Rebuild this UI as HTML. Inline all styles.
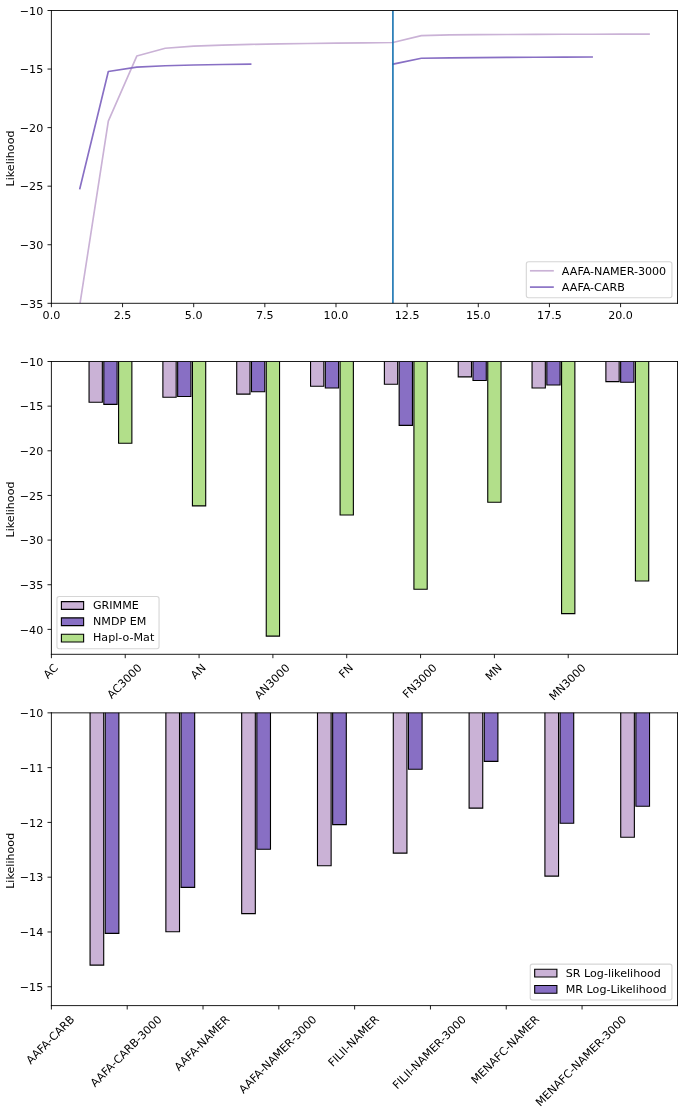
<!DOCTYPE html>
<html><head><meta charset="utf-8"><title>Likelihood figure</title>
<style>html,body{margin:0;padding:0;background:#fff;}svg{display:block;}text{font-family:"DejaVu Sans","Liberation Sans",sans-serif;}</style>
</head><body>
<svg width="685" height="1113" viewBox="0 0 685 1113" version="1.1">
 <defs>
  <style type="text/css">*{stroke-linejoin: round; stroke-linecap: butt}</style>
 </defs>
 <g id="figure_1">
  <g id="patch_1">
   <path d="M 0 1113  L 685 1113  L 685 0  L 0 0  z " style="fill: #ffffff" />
  </g>
  <g id="axes_1">
   <g id="patch_2">
    <path d="M 51.4 303.3  L 677.5 303.3  L 677.5 10.5  L 51.4 10.5  z " style="fill: #ffffff" />
   </g>
   <g id="matplotlib.axis_1">
    <g id="xtick_1">
     <g id="line2d_1">
      <defs>
       <path id="ma469dd302b" d="M 0 0  L 0 3.888889  " style="stroke: #000000; stroke-width: 0.888889" />
      </defs>
      <g>
       <use xlink:href="#ma469dd302b" x="51.4" y="303.3" style="stroke: #000000; stroke-width: 0.888889" />
      </g>
     </g>
     <g id="text_1" transform="translate(0.000 -0.800)">
      <text style="font-size: 11.111111px; font-family: 'DejaVu Sans'; text-anchor: middle" x="51.4" y="319.520486" transform="rotate(-0 51.4 319.520486)">0.0</text>
     </g>
    </g>
    <g id="xtick_2">
     <g id="line2d_2">
      <g>
       <use xlink:href="#ma469dd302b" x="122.547727" y="303.3" style="stroke: #000000; stroke-width: 0.888889" />
      </g>
     </g>
     <g id="text_2" transform="translate(0.000 -0.800)">
      <text style="font-size: 11.111111px; font-family: 'DejaVu Sans'; text-anchor: middle" x="122.547727" y="319.520486" transform="rotate(-0 122.547727 319.520486)">2.5</text>
     </g>
    </g>
    <g id="xtick_3">
     <g id="line2d_3">
      <g>
       <use xlink:href="#ma469dd302b" x="193.695455" y="303.3" style="stroke: #000000; stroke-width: 0.888889" />
      </g>
     </g>
     <g id="text_3" transform="translate(0.000 -0.800)">
      <text style="font-size: 11.111111px; font-family: 'DejaVu Sans'; text-anchor: middle" x="193.695455" y="319.520486" transform="rotate(-0 193.695455 319.520486)">5.0</text>
     </g>
    </g>
    <g id="xtick_4">
     <g id="line2d_4">
      <g>
       <use xlink:href="#ma469dd302b" x="264.843182" y="303.3" style="stroke: #000000; stroke-width: 0.888889" />
      </g>
     </g>
     <g id="text_4" transform="translate(0.000 -0.800)">
      <text style="font-size: 11.111111px; font-family: 'DejaVu Sans'; text-anchor: middle" x="264.843182" y="319.520486" transform="rotate(-0 264.843182 319.520486)">7.5</text>
     </g>
    </g>
    <g id="xtick_5">
     <g id="line2d_5">
      <g>
       <use xlink:href="#ma469dd302b" x="335.990909" y="303.3" style="stroke: #000000; stroke-width: 0.888889" />
      </g>
     </g>
     <g id="text_5" transform="translate(0.000 -0.800)">
      <text style="font-size: 11.111111px; font-family: 'DejaVu Sans'; text-anchor: middle" x="335.990909" y="319.520486" transform="rotate(-0 335.990909 319.520486)">10.0</text>
     </g>
    </g>
    <g id="xtick_6">
     <g id="line2d_6">
      <g>
       <use xlink:href="#ma469dd302b" x="407.138636" y="303.3" style="stroke: #000000; stroke-width: 0.888889" />
      </g>
     </g>
     <g id="text_6" transform="translate(0.000 -0.800)">
      <text style="font-size: 11.111111px; font-family: 'DejaVu Sans'; text-anchor: middle" x="407.138636" y="319.520486" transform="rotate(-0 407.138636 319.520486)">12.5</text>
     </g>
    </g>
    <g id="xtick_7">
     <g id="line2d_7">
      <g>
       <use xlink:href="#ma469dd302b" x="478.286364" y="303.3" style="stroke: #000000; stroke-width: 0.888889" />
      </g>
     </g>
     <g id="text_7" transform="translate(0.000 -0.800)">
      <text style="font-size: 11.111111px; font-family: 'DejaVu Sans'; text-anchor: middle" x="478.286364" y="319.520486" transform="rotate(-0 478.286364 319.520486)">15.0</text>
     </g>
    </g>
    <g id="xtick_8">
     <g id="line2d_8">
      <g>
       <use xlink:href="#ma469dd302b" x="549.434091" y="303.3" style="stroke: #000000; stroke-width: 0.888889" />
      </g>
     </g>
     <g id="text_8" transform="translate(0.000 -0.800)">
      <text style="font-size: 11.111111px; font-family: 'DejaVu Sans'; text-anchor: middle" x="549.434091" y="319.520486" transform="rotate(-0 549.434091 319.520486)">17.5</text>
     </g>
    </g>
    <g id="xtick_9">
     <g id="line2d_9">
      <g>
       <use xlink:href="#ma469dd302b" x="620.581818" y="303.3" style="stroke: #000000; stroke-width: 0.888889" />
      </g>
     </g>
     <g id="text_9" transform="translate(0.000 -0.800)">
      <text style="font-size: 11.111111px; font-family: 'DejaVu Sans'; text-anchor: middle" x="620.581818" y="319.520486" transform="rotate(-0 620.581818 319.520486)">20.0</text>
     </g>
    </g>
   </g>
   <g id="matplotlib.axis_2">
    <g id="ytick_1">
     <g id="line2d_10">
      <defs>
       <path id="md88950ffb6" d="M 0 0  L -3.888889 0  " style="stroke: #000000; stroke-width: 0.888889" />
      </defs>
      <g>
       <use xlink:href="#md88950ffb6" x="51.4" y="303.3" style="stroke: #000000; stroke-width: 0.888889" />
      </g>
     </g>
     <g id="text_10" transform="translate(-0.400 0.000)">
      <text style="font-size: 11.111111px; font-family: 'DejaVu Sans'; text-anchor: end" x="43.622222" y="307.521354" transform="rotate(-0 43.622222 307.521354)">−35</text>
     </g>
    </g>
    <g id="ytick_2">
     <g id="line2d_11">
      <g>
       <use xlink:href="#md88950ffb6" x="51.4" y="244.74" style="stroke: #000000; stroke-width: 0.888889" />
      </g>
     </g>
     <g id="text_11" transform="translate(-0.400 0.000)">
      <text style="font-size: 11.111111px; font-family: 'DejaVu Sans'; text-anchor: end" x="43.622222" y="248.961354" transform="rotate(-0 43.622222 248.961354)">−30</text>
     </g>
    </g>
    <g id="ytick_3">
     <g id="line2d_12">
      <g>
       <use xlink:href="#md88950ffb6" x="51.4" y="186.18" style="stroke: #000000; stroke-width: 0.888889" />
      </g>
     </g>
     <g id="text_12" transform="translate(-0.400 0.000)">
      <text style="font-size: 11.111111px; font-family: 'DejaVu Sans'; text-anchor: end" x="43.622222" y="190.401354" transform="rotate(-0 43.622222 190.401354)">−25</text>
     </g>
    </g>
    <g id="ytick_4">
     <g id="line2d_13">
      <g>
       <use xlink:href="#md88950ffb6" x="51.4" y="127.62" style="stroke: #000000; stroke-width: 0.888889" />
      </g>
     </g>
     <g id="text_13" transform="translate(-0.400 0.000)">
      <text style="font-size: 11.111111px; font-family: 'DejaVu Sans'; text-anchor: end" x="43.622222" y="131.841354" transform="rotate(-0 43.622222 131.841354)">−20</text>
     </g>
    </g>
    <g id="ytick_5">
     <g id="line2d_14">
      <g>
       <use xlink:href="#md88950ffb6" x="51.4" y="69.06" style="stroke: #000000; stroke-width: 0.888889" />
      </g>
     </g>
     <g id="text_14" transform="translate(-0.400 0.000)">
      <text style="font-size: 11.111111px; font-family: 'DejaVu Sans'; text-anchor: end" x="43.622222" y="73.281354" transform="rotate(-0 43.622222 73.281354)">−15</text>
     </g>
    </g>
    <g id="ytick_6">
     <g id="line2d_15">
      <g>
       <use xlink:href="#md88950ffb6" x="51.4" y="10.5" style="stroke: #000000; stroke-width: 0.888889" />
      </g>
     </g>
     <g id="text_15" transform="translate(-0.400 0.000)">
      <text style="font-size: 11.111111px; font-family: 'DejaVu Sans'; text-anchor: end" x="43.622222" y="14.721354" transform="rotate(-0 43.622222 14.721354)">−10</text>
     </g>
    </g>
    <g id="text_16" transform="translate(0.900 1.600)">
     <text style="font-size: 11.111111px; font-family: 'DejaVu Sans'; text-anchor: middle" x="13.417361" y="156.9" transform="rotate(-90 13.417361 156.9)">Likelihood</text>
    </g>
   </g>
   <g id="line2d_16">
    <path d="M 79.859091 304.4712  L 108.318182 121.1784  L 136.777273 56.05968  L 165.236364 48.21264  L 193.695455 46.10448  L 222.154545 45.0504  L 250.613636 44.34768  L 279.072727 43.8792  L 307.531818 43.52784  L 335.990909 43.17648  L 364.45 42.82512  L 392.909091 42.47376  L 421.368182 35.6808  L 449.827273 34.86096  L 478.286364 34.62672  L 506.745455 34.5096  L 535.204545 34.39248  L 563.663636 34.27536  L 592.122727 34.27536  L 620.581818 34.15824  L 649.040909 34.15824  " clip-path="url(#p0e9ca665ba)" style="fill: none; stroke: #cab2d6; stroke-width: 1.666667; stroke-linecap: square" />
   </g>
   <g id="line2d_17">
    <path d="M 79.859091 188.5224  L 108.318182 71.51952  L 136.777273 67.18608  L 165.236364 65.78064  L 193.695455 64.9608  L 222.154545 64.49232  L 250.613636 64.14096  " clip-path="url(#p0e9ca665ba)" style="fill: none; stroke: #886fc4; stroke-width: 1.666667; stroke-linecap: square" />
   </g>
   <g id="line2d_18">
    <path d="M 392.909091 64.14096  L 421.368182 58.28496  L 449.827273 57.81648  L 478.286364 57.58224  L 506.745455 57.348  L 535.204545 57.23088  L 563.663636 57.11376  L 592.122727 56.99664  " clip-path="url(#p0e9ca665ba)" style="fill: none; stroke: #886fc4; stroke-width: 1.666667; stroke-linecap: square" />
   </g>
   <g id="line2d_19">
    <path d="M 392.909091 303.3  L 392.909091 10.5  " clip-path="url(#p0e9ca665ba)" style="fill: none; stroke: #1f77b4; stroke-width: 1.666667; stroke-linecap: square" />
   </g>
   <g id="patch_3">
    <path d="M 51.4 303.3  L 51.4 10.5  " style="fill: none; stroke: #000000; stroke-width: 0.888889; stroke-linejoin: miter; stroke-linecap: square" />
   </g>
   <g id="patch_4">
    <path d="M 677.5 303.3  L 677.5 10.5  " style="fill: none; stroke: #000000; stroke-width: 0.888889; stroke-linejoin: miter; stroke-linecap: square" />
   </g>
   <g id="patch_5">
    <path d="M 51.4 303.3  L 677.5 303.3  " style="fill: none; stroke: #000000; stroke-width: 0.888889; stroke-linejoin: miter; stroke-linecap: square" />
   </g>
   <g id="patch_6">
    <path d="M 51.4 10.5  L 677.5 10.5  " style="fill: none; stroke: #000000; stroke-width: 0.888889; stroke-linejoin: miter; stroke-linecap: square" />
   </g>
   <g id="legend_1">
    <g id="patch_7">
     <path d="M 528.5403 297.7444  L 669.7222 297.7444  Q 671.9444 297.7444 671.9444 295.5222  L 671.9444 264.0153  Q 671.9444 261.7931 669.7222 261.7931  L 528.5403 261.7931  Q 526.3181 261.7931 526.3181 264.0153  L 526.3181 295.5222  Q 526.3181 297.7444 528.5403 297.7444  z " style="fill: #ffffff; opacity: 0.8; stroke: #cccccc; stroke-width: 1.111111; stroke-linejoin: miter" />
    </g>
    <g id="line2d_20" transform="translate(-1.300 0.000)">
     <path d="M 532.0625 270.791319  L 543.173611 270.791319  L 554.284722 270.791319  " style="fill: none; stroke: #cab2d6; stroke-width: 1.666667; stroke-linecap: square" />
    </g>
    <g id="text_17" transform="translate(-1.300 0.000)">
     <text style="font-size: 11.111111px; font-family: 'DejaVu Sans'; text-anchor: start" x="563.173611" y="274.680208" transform="rotate(-0 563.173611 274.680208)">AAFA-NAMER-3000</text>
    </g>
    <g id="line2d_21" transform="translate(-1.300 0.000)">
     <path d="M 532.0625 287.100347  L 543.173611 287.100347  L 554.284722 287.100347  " style="fill: none; stroke: #886fc4; stroke-width: 1.666667; stroke-linecap: square" />
    </g>
    <g id="text_18" transform="translate(-1.300 0.000)">
     <text style="font-size: 11.111111px; font-family: 'DejaVu Sans'; text-anchor: start" x="563.173611" y="290.989236" transform="rotate(-0 563.173611 290.989236)">AAFA-CARB</text>
    </g>
   </g>
  </g>
  <g id="axes_2">
   <g id="patch_8">
    <path d="M 51.4 654.3  L 677.5 654.3  L 677.5 361.5  L 51.4 361.5  z " style="fill: #ffffff" />
   </g>
   <g id="patch_9">
    <path d="M 89.054599 272.204483  L 102.344458 272.204483  L 102.344458 402.308051  L 89.054599 402.308051  z " clip-path="url(#p69fe5c8029)" style="fill: #cab2d6; stroke: #000000; stroke-width: 1.111111; stroke-linejoin: miter" />
   </g>
   <g id="patch_10">
    <path d="M 162.887146 272.204483  L 176.177005 272.204483  L 176.177005 397.307502  L 162.887146 397.307502  z " clip-path="url(#p69fe5c8029)" style="fill: #cab2d6; stroke: #000000; stroke-width: 1.111111; stroke-linejoin: miter" />
   </g>
   <g id="patch_11">
    <path d="M 236.719693 272.204483  L 250.009552 272.204483  L 250.009552 394.092864  L 236.719693 394.092864  z " clip-path="url(#p69fe5c8029)" style="fill: #cab2d6; stroke: #000000; stroke-width: 1.111111; stroke-linejoin: miter" />
   </g>
   <g id="patch_12">
    <path d="M 310.552241 272.204483  L 323.842099 272.204483  L 323.842099 386.234858  L 310.552241 386.234858  z " clip-path="url(#p69fe5c8029)" style="fill: #cab2d6; stroke: #000000; stroke-width: 1.111111; stroke-linejoin: miter" />
   </g>
   <g id="patch_13">
    <path d="M 384.384788 272.204483  L 397.674646 272.204483  L 397.674646 384.181061  L 384.384788 384.181061  z " clip-path="url(#p69fe5c8029)" style="fill: #cab2d6; stroke: #000000; stroke-width: 1.111111; stroke-linejoin: miter" />
   </g>
   <g id="patch_14">
    <path d="M 458.217335 272.204483  L 471.507193 272.204483  L 471.507193 376.858829  L 458.217335 376.858829  z " clip-path="url(#p69fe5c8029)" style="fill: #cab2d6; stroke: #000000; stroke-width: 1.111111; stroke-linejoin: miter" />
   </g>
   <g id="patch_15">
    <path d="M 532.049882 272.204483  L 545.339741 272.204483  L 545.339741 388.020769  L 532.049882 388.020769  z " clip-path="url(#p69fe5c8029)" style="fill: #cab2d6; stroke: #000000; stroke-width: 1.111111; stroke-linejoin: miter" />
   </g>
   <g id="patch_16">
    <path d="M 605.882429 272.204483  L 619.172288 272.204483  L 619.172288 381.591491  L 605.882429 381.591491  z " clip-path="url(#p69fe5c8029)" style="fill: #cab2d6; stroke: #000000; stroke-width: 1.111111; stroke-linejoin: miter" />
   </g>
   <g id="patch_17">
    <path d="M 103.821108 272.204483  L 117.110967 272.204483  L 117.110967 404.361848  L 103.821108 404.361848  z " clip-path="url(#p69fe5c8029)" style="fill: #886fc4; stroke: #000000; stroke-width: 1.111111; stroke-linejoin: miter" />
   </g>
   <g id="patch_18">
    <path d="M 177.653656 272.204483  L 190.943514 272.204483  L 190.943514 396.503843  L 177.653656 396.503843  z " clip-path="url(#p69fe5c8029)" style="fill: #886fc4; stroke: #000000; stroke-width: 1.111111; stroke-linejoin: miter" />
   </g>
   <g id="patch_19">
    <path d="M 251.486203 272.204483  L 264.776061 272.204483  L 264.776061 391.77118  L 251.486203 391.77118  z " clip-path="url(#p69fe5c8029)" style="fill: #886fc4; stroke: #000000; stroke-width: 1.111111; stroke-linejoin: miter" />
   </g>
   <g id="patch_20">
    <path d="M 325.31875 272.204483  L 338.608608 272.204483  L 338.608608 388.020769  L 325.31875 388.020769  z " clip-path="url(#p69fe5c8029)" style="fill: #886fc4; stroke: #000000; stroke-width: 1.111111; stroke-linejoin: miter" />
   </g>
   <g id="patch_21">
    <path d="M 399.151297 272.204483  L 412.441156 272.204483  L 412.441156 425.346295  L 399.151297 425.346295  z " clip-path="url(#p69fe5c8029)" style="fill: #886fc4; stroke: #000000; stroke-width: 1.111111; stroke-linejoin: miter" />
   </g>
   <g id="patch_22">
    <path d="M 472.983844 272.204483  L 486.273703 272.204483  L 486.273703 380.43065  L 472.983844 380.43065  z " clip-path="url(#p69fe5c8029)" style="fill: #886fc4; stroke: #000000; stroke-width: 1.111111; stroke-linejoin: miter" />
   </g>
   <g id="patch_23">
    <path d="M 546.816392 272.204483  L 560.10625 272.204483  L 560.10625 384.984721  L 546.816392 384.984721  z " clip-path="url(#p69fe5c8029)" style="fill: #886fc4; stroke: #000000; stroke-width: 1.111111; stroke-linejoin: miter" />
   </g>
   <g id="patch_24">
    <path d="M 620.648939 272.204483  L 633.938797 272.204483  L 633.938797 382.305855  L 620.648939 382.305855  z " clip-path="url(#p69fe5c8029)" style="fill: #886fc4; stroke: #000000; stroke-width: 1.111111; stroke-linejoin: miter" />
   </g>
   <g id="patch_25">
    <path d="M 118.587618 272.204483  L 131.877476 272.204483  L 131.877476 443.205398  L 118.587618 443.205398  z " clip-path="url(#p69fe5c8029)" style="fill: #b2df8a; stroke: #000000; stroke-width: 1.111111; stroke-linejoin: miter" />
   </g>
   <g id="patch_26">
    <path d="M 192.420165 272.204483  L 205.710024 272.204483  L 205.710024 505.890851  L 192.420165 505.890851  z " clip-path="url(#p69fe5c8029)" style="fill: #b2df8a; stroke: #000000; stroke-width: 1.111111; stroke-linejoin: miter" />
   </g>
   <g id="patch_27">
    <path d="M 266.252712 272.204483  L 279.542571 272.204483  L 279.542571 636.083715  L 266.252712 636.083715  z " clip-path="url(#p69fe5c8029)" style="fill: #b2df8a; stroke: #000000; stroke-width: 1.111111; stroke-linejoin: miter" />
   </g>
   <g id="patch_28">
    <path d="M 340.085259 272.204483  L 353.375118 272.204483  L 353.375118 514.998994  L 340.085259 514.998994  z " clip-path="url(#p69fe5c8029)" style="fill: #b2df8a; stroke: #000000; stroke-width: 1.111111; stroke-linejoin: miter" />
   </g>
   <g id="patch_29">
    <path d="M 413.917807 272.204483  L 427.207665 272.204483  L 427.207665 589.203568  L 413.917807 589.203568  z " clip-path="url(#p69fe5c8029)" style="fill: #b2df8a; stroke: #000000; stroke-width: 1.111111; stroke-linejoin: miter" />
   </g>
   <g id="patch_30">
    <path d="M 487.750354 272.204483  L 501.040212 272.204483  L 501.040212 502.31903  L 487.750354 502.31903  z " clip-path="url(#p69fe5c8029)" style="fill: #b2df8a; stroke: #000000; stroke-width: 1.111111; stroke-linejoin: miter" />
   </g>
   <g id="patch_31">
    <path d="M 561.582901 272.204483  L 574.872759 272.204483  L 574.872759 613.67054  L 561.582901 613.67054  z " clip-path="url(#p69fe5c8029)" style="fill: #b2df8a; stroke: #000000; stroke-width: 1.111111; stroke-linejoin: miter" />
   </g>
   <g id="patch_32">
    <path d="M 635.415448 272.204483  L 648.705307 272.204483  L 648.705307 580.988381  L 635.415448 580.988381  z " clip-path="url(#p69fe5c8029)" style="fill: #b2df8a; stroke: #000000; stroke-width: 1.111111; stroke-linejoin: miter" />
   </g>
   <g id="matplotlib.axis_3">
    <g id="xtick_10">
     <g id="line2d_22">
      <g>
       <use xlink:href="#ma469dd302b" x="51.4" y="654.3" style="stroke: #000000; stroke-width: 0.888889" />
      </g>
     </g>
     <g id="text_19" transform="translate(-0.300 0.400)">
      <text style="font-size: 11.111111px; font-family: 'DejaVu Sans'" transform="translate(48.206357 678.770899) rotate(-45)">AC</text>
     </g>
    </g>
    <g id="xtick_11">
     <g id="line2d_23">
      <g>
       <use xlink:href="#ma469dd302b" x="125.232547" y="654.3" style="stroke: #000000; stroke-width: 0.888889" />
      </g>
     </g>
     <g id="text_20" transform="translate(-0.300 0.400)">
      <text style="font-size: 11.111111px; font-family: 'DejaVu Sans'" transform="translate(112.0412 698.766308) rotate(-45)">AC3000</text>
     </g>
    </g>
    <g id="xtick_12">
     <g id="line2d_24">
      <g>
       <use xlink:href="#ma469dd302b" x="199.065094" y="654.3" style="stroke: #000000; stroke-width: 0.888889" />
      </g>
     </g>
     <g id="text_21" transform="translate(-0.300 0.400)">
      <text style="font-size: 11.111111px; font-family: 'DejaVu Sans'" transform="translate(195.6069 679.300002) rotate(-45)">AN</text>
     </g>
    </g>
    <g id="xtick_13">
     <g id="line2d_25">
      <g>
       <use xlink:href="#ma469dd302b" x="272.897642" y="654.3" style="stroke: #000000; stroke-width: 0.888889" />
      </g>
     </g>
     <g id="text_22" transform="translate(-0.300 0.400)">
      <text style="font-size: 11.111111px; font-family: 'DejaVu Sans'" transform="translate(259.441743 699.29541) rotate(-45)">AN3000</text>
     </g>
    </g>
    <g id="xtick_14">
     <g id="line2d_26">
      <g>
       <use xlink:href="#ma469dd302b" x="346.730189" y="654.3" style="stroke: #000000; stroke-width: 0.888889" />
      </g>
     </g>
     <g id="text_23" transform="translate(-0.300 0.400)">
      <text style="font-size: 11.111111px; font-family: 'DejaVu Sans'" transform="translate(343.699819 678.444353) rotate(-45)">FN</text>
     </g>
    </g>
    <g id="xtick_15">
     <g id="line2d_27">
      <g>
       <use xlink:href="#ma469dd302b" x="420.562736" y="654.3" style="stroke: #000000; stroke-width: 0.888889" />
      </g>
     </g>
     <g id="text_24" transform="translate(-0.300 0.400)">
      <text style="font-size: 11.111111px; font-family: 'DejaVu Sans'" transform="translate(407.534662 698.439762) rotate(-45)">FN3000</text>
     </g>
    </g>
    <g id="xtick_16">
     <g id="line2d_28">
      <g>
       <use xlink:href="#ma469dd302b" x="494.395283" y="654.3" style="stroke: #000000; stroke-width: 0.888889" />
      </g>
     </g>
     <g id="text_25" transform="translate(-0.300 0.400)">
      <text style="font-size: 11.111111px; font-family: 'DejaVu Sans'" transform="translate(490.234893 680.704394) rotate(-45)">MN</text>
     </g>
    </g>
    <g id="xtick_17">
     <g id="line2d_29">
      <g>
       <use xlink:href="#ma469dd302b" x="568.22783" y="654.3" style="stroke: #000000; stroke-width: 0.888889" />
      </g>
     </g>
     <g id="text_26" transform="translate(-0.300 0.400)">
      <text style="font-size: 11.111111px; font-family: 'DejaVu Sans'" transform="translate(554.069736 700.699803) rotate(-45)">MN3000</text>
     </g>
    </g>
   </g>
   <g id="matplotlib.axis_4">
    <g id="ytick_7">
     <g id="line2d_30">
      <g>
       <use xlink:href="#md88950ffb6" x="51.4" y="629.386551" style="stroke: #000000; stroke-width: 0.888889" />
      </g>
     </g>
     <g id="text_27" transform="translate(-0.400 0.000)">
      <text style="font-size: 11.111111px; font-family: 'DejaVu Sans'; text-anchor: end" x="43.622222" y="633.607905" transform="rotate(-0 43.622222 633.607905)">−40</text>
     </g>
    </g>
    <g id="ytick_8">
     <g id="line2d_31">
      <g>
       <use xlink:href="#md88950ffb6" x="51.4" y="584.738792" style="stroke: #000000; stroke-width: 0.888889" />
      </g>
     </g>
     <g id="text_28" transform="translate(-0.400 0.000)">
      <text style="font-size: 11.111111px; font-family: 'DejaVu Sans'; text-anchor: end" x="43.622222" y="588.960146" transform="rotate(-0 43.622222 588.960146)">−35</text>
     </g>
    </g>
    <g id="ytick_9">
     <g id="line2d_32">
      <g>
       <use xlink:href="#md88950ffb6" x="51.4" y="540.091034" style="stroke: #000000; stroke-width: 0.888889" />
      </g>
     </g>
     <g id="text_29" transform="translate(-0.400 0.000)">
      <text style="font-size: 11.111111px; font-family: 'DejaVu Sans'; text-anchor: end" x="43.622222" y="544.312388" transform="rotate(-0 43.622222 544.312388)">−30</text>
     </g>
    </g>
    <g id="ytick_10">
     <g id="line2d_33">
      <g>
       <use xlink:href="#md88950ffb6" x="51.4" y="495.443275" style="stroke: #000000; stroke-width: 0.888889" />
      </g>
     </g>
     <g id="text_30" transform="translate(-0.400 0.000)">
      <text style="font-size: 11.111111px; font-family: 'DejaVu Sans'; text-anchor: end" x="43.622222" y="499.66463" transform="rotate(-0 43.622222 499.66463)">−25</text>
     </g>
    </g>
    <g id="ytick_11">
     <g id="line2d_34">
      <g>
       <use xlink:href="#md88950ffb6" x="51.4" y="450.795517" style="stroke: #000000; stroke-width: 0.888889" />
      </g>
     </g>
     <g id="text_31" transform="translate(-0.400 0.000)">
      <text style="font-size: 11.111111px; font-family: 'DejaVu Sans'; text-anchor: end" x="43.622222" y="455.016871" transform="rotate(-0 43.622222 455.016871)">−20</text>
     </g>
    </g>
    <g id="ytick_12">
     <g id="line2d_35">
      <g>
       <use xlink:href="#md88950ffb6" x="51.4" y="406.147758" style="stroke: #000000; stroke-width: 0.888889" />
      </g>
     </g>
     <g id="text_32" transform="translate(-0.400 0.000)">
      <text style="font-size: 11.111111px; font-family: 'DejaVu Sans'; text-anchor: end" x="43.622222" y="410.369113" transform="rotate(-0 43.622222 410.369113)">−15</text>
     </g>
    </g>
    <g id="ytick_13">
     <g id="line2d_36">
      <g>
       <use xlink:href="#md88950ffb6" x="51.4" y="361.5" style="stroke: #000000; stroke-width: 0.888889" />
      </g>
     </g>
     <g id="text_33" transform="translate(-0.400 0.000)">
      <text style="font-size: 11.111111px; font-family: 'DejaVu Sans'; text-anchor: end" x="43.622222" y="365.721354" transform="rotate(-0 43.622222 365.721354)">−10</text>
     </g>
    </g>
    <g id="text_34" transform="translate(0.900 1.600)">
     <text style="font-size: 11.111111px; font-family: 'DejaVu Sans'; text-anchor: middle" x="13.417361" y="507.9" transform="rotate(-90 13.417361 507.9)">Likelihood</text>
    </g>
   </g>
   <g id="patch_33">
    <path d="M 51.4 654.3  L 51.4 361.5  " style="fill: none; stroke: #000000; stroke-width: 0.888889; stroke-linejoin: miter; stroke-linecap: square" />
   </g>
   <g id="patch_34">
    <path d="M 677.5 654.3  L 677.5 361.5  " style="fill: none; stroke: #000000; stroke-width: 0.888889; stroke-linejoin: miter; stroke-linecap: square" />
   </g>
   <g id="patch_35">
    <path d="M 51.4 654.3  L 677.5 654.3  " style="fill: none; stroke: #000000; stroke-width: 0.888889; stroke-linejoin: miter; stroke-linecap: square" />
   </g>
   <g id="patch_36">
    <path d="M 51.4 361.5  L 677.5 361.5  " style="fill: none; stroke: #000000; stroke-width: 0.888889; stroke-linejoin: miter; stroke-linecap: square" />
   </g>
   <g id="legend_2">
    <g id="patch_37">
     <path d="M 59.1778 648.7444  L 156.8233 648.7444  Q 159.0455 648.7444 159.0455 646.5222  L 159.0455 598.7062  Q 159.0455 596.4840 156.8233 596.4840  L 59.1778 596.4840  Q 56.9556 596.4840 56.9556 598.7062  L 56.9556 646.5222  Q 56.9556 648.7444 59.1778 648.7444  z " style="fill: #ffffff; opacity: 0.8; stroke: #cccccc; stroke-width: 1.111111; stroke-linejoin: miter" />
    </g>
    <g id="patch_38" transform="translate(0.000 0.000)">
     <path d="M 61.4 609.371181  L 83.622222 609.371181  L 83.622222 601.593403  L 61.4 601.593403  z " style="fill: #cab2d6; stroke: #000000; stroke-width: 1.111111; stroke-linejoin: miter" />
    </g>
    <g id="text_35" transform="translate(0.500 -0.500)">
     <text style="font-size: 11.111111px; font-family: 'DejaVu Sans'; text-anchor: start" x="92.511111" y="609.371181" transform="rotate(-0 92.511111 609.371181)">GRIMME</text>
    </g>
    <g id="patch_39" transform="translate(0.000 0.000)">
     <path d="M 61.4 625.680208  L 83.622222 625.680208  L 83.622222 617.902431  L 61.4 617.902431  z " style="fill: #886fc4; stroke: #000000; stroke-width: 1.111111; stroke-linejoin: miter" />
    </g>
    <g id="text_36" transform="translate(0.500 -0.500)">
     <text style="font-size: 11.111111px; font-family: 'DejaVu Sans'; text-anchor: start" x="92.511111" y="625.680208" transform="rotate(-0 92.511111 625.680208)">NMDP EM</text>
    </g>
    <g id="patch_40" transform="translate(0.000 0.000)">
     <path d="M 61.4 641.989236  L 83.622222 641.989236  L 83.622222 634.211458  L 61.4 634.211458  z " style="fill: #b2df8a; stroke: #000000; stroke-width: 1.111111; stroke-linejoin: miter" />
    </g>
    <g id="text_37" transform="translate(0.500 -0.500)">
     <text style="font-size: 11.111111px; font-family: 'DejaVu Sans'; text-anchor: start" x="92.511111" y="641.989236" transform="rotate(-0 92.511111 641.989236)">Hapl-o-Mat</text>
    </g>
   </g>
  </g>
  <g id="axes_3">
   <g id="patch_41">
    <path d="M 51.4 1005.6  L 677.5 1005.6  L 677.5 712.85  L 51.4 712.85  z " style="fill: #ffffff" />
   </g>
   <g id="patch_42">
    <path d="M 90.062187 165.039371  L 103.707664 165.039371  L 103.707664 965.116795  L 90.062187 965.116795  z " clip-path="url(#pdeedae4d94)" style="fill: #cab2d6; stroke: #000000; stroke-width: 1.111111; stroke-linejoin: miter" />
   </g>
   <g id="patch_43">
    <path d="M 165.870396 165.039371  L 179.515874 165.039371  L 179.515874 931.700346  L 165.870396 931.700346  z " clip-path="url(#pdeedae4d94)" style="fill: #cab2d6; stroke: #000000; stroke-width: 1.111111; stroke-linejoin: miter" />
   </g>
   <g id="patch_44">
    <path d="M 241.678605 165.039371  L 255.324083 165.039371  L 255.324083 913.622595  L 241.678605 913.622595  z " clip-path="url(#pdeedae4d94)" style="fill: #cab2d6; stroke: #000000; stroke-width: 1.111111; stroke-linejoin: miter" />
   </g>
   <g id="patch_45">
    <path d="M 317.486814 165.039371  L 331.132292 165.039371  L 331.132292 865.689165  L 317.486814 865.689165  z " clip-path="url(#pdeedae4d94)" style="fill: #cab2d6; stroke: #000000; stroke-width: 1.111111; stroke-linejoin: miter" />
   </g>
   <g id="patch_46">
    <path d="M 393.295024 165.039371  L 406.940501 165.039371  L 406.940501 853.089521  L 393.295024 853.089521  z " clip-path="url(#pdeedae4d94)" style="fill: #cab2d6; stroke: #000000; stroke-width: 1.111111; stroke-linejoin: miter" />
   </g>
   <g id="patch_47">
    <path d="M 469.103233 165.039371  L 482.74871 165.039371  L 482.74871 808.169049  L 469.103233 808.169049  z " clip-path="url(#pdeedae4d94)" style="fill: #cab2d6; stroke: #000000; stroke-width: 1.111111; stroke-linejoin: miter" />
   </g>
   <g id="patch_48">
    <path d="M 544.911442 165.039371  L 558.55692 165.039371  L 558.55692 876.097567  L 544.911442 876.097567  z " clip-path="url(#pdeedae4d94)" style="fill: #cab2d6; stroke: #000000; stroke-width: 1.111111; stroke-linejoin: miter" />
   </g>
   <g id="patch_49">
    <path d="M 620.719651 165.039371  L 634.365129 165.039371  L 634.365129 837.203013  L 620.719651 837.203013  z " clip-path="url(#pdeedae4d94)" style="fill: #cab2d6; stroke: #000000; stroke-width: 1.111111; stroke-linejoin: miter" />
   </g>
   <g id="patch_50">
    <path d="M 105.223829 165.039371  L 118.869306 165.039371  L 118.869306 933.343778  L 105.223829 933.343778  z " clip-path="url(#pdeedae4d94)" style="fill: #886fc4; stroke: #000000; stroke-width: 1.111111; stroke-linejoin: miter" />
   </g>
   <g id="patch_51">
    <path d="M 181.032038 165.039371  L 194.677515 165.039371  L 194.677515 887.327685  L 181.032038 887.327685  z " clip-path="url(#pdeedae4d94)" style="fill: #886fc4; stroke: #000000; stroke-width: 1.111111; stroke-linejoin: miter" />
   </g>
   <g id="patch_52">
    <path d="M 256.840247 165.039371  L 270.485725 165.039371  L 270.485725 849.254847  L 256.840247 849.254847  z " clip-path="url(#pdeedae4d94)" style="fill: #886fc4; stroke: #000000; stroke-width: 1.111111; stroke-linejoin: miter" />
   </g>
   <g id="patch_53">
    <path d="M 332.648456 165.039371  L 346.293934 165.039371  L 346.293934 824.603368  L 332.648456 824.603368  z " clip-path="url(#pdeedae4d94)" style="fill: #886fc4; stroke: #000000; stroke-width: 1.111111; stroke-linejoin: miter" />
   </g>
   <g id="patch_54">
    <path d="M 408.456665 165.039371  L 422.102143 165.039371  L 422.102143 769.274495  L 408.456665 769.274495  z " clip-path="url(#pdeedae4d94)" style="fill: #886fc4; stroke: #000000; stroke-width: 1.111111; stroke-linejoin: miter" />
   </g>
   <g id="patch_55">
    <path d="M 484.264875 165.039371  L 497.910352 165.039371  L 497.910352 761.331241  L 484.264875 761.331241  z " clip-path="url(#pdeedae4d94)" style="fill: #886fc4; stroke: #000000; stroke-width: 1.111111; stroke-linejoin: miter" />
   </g>
   <g id="patch_56">
    <path d="M 560.073084 165.039371  L 573.718562 165.039371  L 573.718562 823.233842  L 560.073084 823.233842  z " clip-path="url(#pdeedae4d94)" style="fill: #886fc4; stroke: #000000; stroke-width: 1.111111; stroke-linejoin: miter" />
   </g>
   <g id="patch_57">
    <path d="M 635.881293 165.039371  L 649.526771 165.039371  L 649.526771 806.251712  L 635.881293 806.251712  z " clip-path="url(#pdeedae4d94)" style="fill: #886fc4; stroke: #000000; stroke-width: 1.111111; stroke-linejoin: miter" />
   </g>
   <g id="matplotlib.axis_5">
    <g id="xtick_18">
     <g id="line2d_37">
      <g>
       <use xlink:href="#ma469dd302b" x="51.4" y="1005.6" style="stroke: #000000; stroke-width: 0.888889" />
      </g>
     </g>
     <g id="text_38" transform="translate(-0.600 0.800)">
      <text style="font-size: 11.111111px; font-family: 'DejaVu Sans'" transform="translate(31.313134 1063.857345) rotate(-45)">AAFA-CARB</text>
     </g>
    </g>
    <g id="xtick_19">
     <g id="line2d_38">
      <g>
       <use xlink:href="#ma469dd302b" x="127.208209" y="1005.6" style="stroke: #000000; stroke-width: 0.888889" />
      </g>
     </g>
     <g id="text_39" transform="translate(-0.600 0.800)">
      <text style="font-size: 11.111111px; font-family: 'DejaVu Sans'" transform="translate(95.706357 1086.687319) rotate(-45)">AAFA-CARB-3000</text>
     </g>
    </g>
    <g id="xtick_20">
     <g id="line2d_39">
      <g>
       <use xlink:href="#ma469dd302b" x="203.016418" y="1005.6" style="stroke: #000000; stroke-width: 0.888889" />
      </g>
     </g>
     <g id="text_40" transform="translate(-0.600 0.800)">
      <text style="font-size: 11.111111px; font-family: 'DejaVu Sans'" transform="translate(179.557292 1070.601867) rotate(-45)">AAFA-NAMER</text>
     </g>
    </g>
    <g id="xtick_21">
     <g id="line2d_40">
      <g>
       <use xlink:href="#ma469dd302b" x="278.824628" y="1005.6" style="stroke: #000000; stroke-width: 0.888889" />
      </g>
     </g>
     <g id="text_41" transform="translate(-0.600 0.800)">
      <text style="font-size: 11.111111px; font-family: 'DejaVu Sans'" transform="translate(244.107649 1093.117571) rotate(-45)">AAFA-NAMER-3000</text>
     </g>
    </g>
    <g id="xtick_22">
     <g id="line2d_41">
      <g>
       <use xlink:href="#ma469dd302b" x="354.632837" y="1005.6" style="stroke: #000000; stroke-width: 0.888889" />
      </g>
     </g>
     <g id="text_42" transform="translate(-0.600 0.800)">
      <text style="font-size: 11.111111px; font-family: 'DejaVu Sans'" transform="translate(333.231194 1066.486899) rotate(-45)">FILII-NAMER</text>
     </g>
    </g>
    <g id="xtick_23">
     <g id="line2d_42">
      <g>
       <use xlink:href="#ma469dd302b" x="430.441046" y="1005.6" style="stroke: #000000; stroke-width: 0.888889" />
      </g>
     </g>
     <g id="text_43" transform="translate(-0.600 0.800)">
      <text style="font-size: 11.111111px; font-family: 'DejaVu Sans'" transform="translate(397.781552 1089.002603) rotate(-45)">FILII-NAMER-3000</text>
     </g>
    </g>
    <g id="xtick_24">
     <g id="line2d_43">
      <g>
       <use xlink:href="#ma469dd302b" x="506.249255" y="1005.6" style="stroke: #000000; stroke-width: 0.888889" />
      </g>
     </g>
     <g id="text_44" transform="translate(-0.600 0.800)">
      <text style="font-size: 11.111111px; font-family: 'DejaVu Sans'" transform="translate(476.272102 1083.637921) rotate(-45)">MENAFC-NAMER</text>
     </g>
    </g>
    <g id="xtick_25">
     <g id="line2d_44">
      <g>
       <use xlink:href="#ma469dd302b" x="582.057465" y="1005.6" style="stroke: #000000; stroke-width: 0.888889" />
      </g>
     </g>
     <g id="text_45" transform="translate(-0.600 0.800)">
      <text style="font-size: 11.111111px; font-family: 'DejaVu Sans'" transform="translate(540.822459 1106.153625) rotate(-45)">MENAFC-NAMER-3000</text>
     </g>
    </g>
   </g>
   <g id="matplotlib.axis_6">
    <g id="ytick_14">
     <g id="line2d_45">
      <g>
       <use xlink:href="#md88950ffb6" x="51.4" y="986.755314" style="stroke: #000000; stroke-width: 0.888889" />
      </g>
     </g>
     <g id="text_46" transform="translate(-0.400 0.000)">
      <text style="font-size: 11.111111px; font-family: 'DejaVu Sans'; text-anchor: end" x="43.622222" y="990.976669" transform="rotate(-0 43.622222 990.976669)">−15</text>
     </g>
    </g>
    <g id="ytick_15">
     <g id="line2d_46">
      <g>
       <use xlink:href="#md88950ffb6" x="51.4" y="931.974251" style="stroke: #000000; stroke-width: 0.888889" />
      </g>
     </g>
     <g id="text_47" transform="translate(-0.400 0.000)">
      <text style="font-size: 11.111111px; font-family: 'DejaVu Sans'; text-anchor: end" x="43.622222" y="936.195606" transform="rotate(-0 43.622222 936.195606)">−14</text>
     </g>
    </g>
    <g id="ytick_16">
     <g id="line2d_47">
      <g>
       <use xlink:href="#md88950ffb6" x="51.4" y="877.193189" style="stroke: #000000; stroke-width: 0.888889" />
      </g>
     </g>
     <g id="text_48" transform="translate(-0.400 0.000)">
      <text style="font-size: 11.111111px; font-family: 'DejaVu Sans'; text-anchor: end" x="43.622222" y="881.414543" transform="rotate(-0 43.622222 881.414543)">−13</text>
     </g>
    </g>
    <g id="ytick_17">
     <g id="line2d_48">
      <g>
       <use xlink:href="#md88950ffb6" x="51.4" y="822.412126" style="stroke: #000000; stroke-width: 0.888889" />
      </g>
     </g>
     <g id="text_49" transform="translate(-0.400 0.000)">
      <text style="font-size: 11.111111px; font-family: 'DejaVu Sans'; text-anchor: end" x="43.622222" y="826.63348" transform="rotate(-0 43.622222 826.63348)">−12</text>
     </g>
    </g>
    <g id="ytick_18">
     <g id="line2d_49">
      <g>
       <use xlink:href="#md88950ffb6" x="51.4" y="767.631063" style="stroke: #000000; stroke-width: 0.888889" />
      </g>
     </g>
     <g id="text_50" transform="translate(-0.400 0.000)">
      <text style="font-size: 11.111111px; font-family: 'DejaVu Sans'; text-anchor: end" x="43.622222" y="771.852417" transform="rotate(-0 43.622222 771.852417)">−11</text>
     </g>
    </g>
    <g id="ytick_19">
     <g id="line2d_50">
      <g>
       <use xlink:href="#md88950ffb6" x="51.4" y="712.85" style="stroke: #000000; stroke-width: 0.888889" />
      </g>
     </g>
     <g id="text_51" transform="translate(-0.400 0.000)">
      <text style="font-size: 11.111111px; font-family: 'DejaVu Sans'; text-anchor: end" x="43.622222" y="717.071354" transform="rotate(-0 43.622222 717.071354)">−10</text>
     </g>
    </g>
    <g id="text_52" transform="translate(0.900 1.600)">
     <text style="font-size: 11.111111px; font-family: 'DejaVu Sans'; text-anchor: middle" x="13.417361" y="859.225" transform="rotate(-90 13.417361 859.225)">Likelihood</text>
    </g>
   </g>
   <g id="patch_58">
    <path d="M 51.4 1005.6  L 51.4 712.85  " style="fill: none; stroke: #000000; stroke-width: 0.888889; stroke-linejoin: miter; stroke-linecap: square" />
   </g>
   <g id="patch_59">
    <path d="M 677.5 1005.6  L 677.5 712.85  " style="fill: none; stroke: #000000; stroke-width: 0.888889; stroke-linejoin: miter; stroke-linecap: square" />
   </g>
   <g id="patch_60">
    <path d="M 51.4 1005.6  L 677.5 1005.6  " style="fill: none; stroke: #000000; stroke-width: 0.888889; stroke-linejoin: miter; stroke-linecap: square" />
   </g>
   <g id="patch_61">
    <path d="M 51.4 712.85  L 677.5 712.85  " style="fill: none; stroke: #000000; stroke-width: 0.888889; stroke-linejoin: miter; stroke-linecap: square" />
   </g>
   <g id="legend_3">
    <g id="patch_62">
     <path d="M 532.4583 1000.0444  L 669.7222 1000.0444  Q 671.9444 1000.0444 671.9444 997.8222  L 671.9444 966.3153  Q 671.9444 964.0931 669.7222 964.0931  L 532.4583 964.0931  Q 530.2361 964.0931 530.2361 966.3153  L 530.2361 997.8222  Q 530.2361 1000.0444 532.4583 1000.0444  z " style="fill: #ffffff; opacity: 0.8; stroke: #cccccc; stroke-width: 1.111111; stroke-linejoin: miter" />
    </g>
    <g id="patch_63" transform="translate(-1.000 0.000)">
     <path d="M 535.680556 976.980208  L 557.902778 976.980208  L 557.902778 969.202431  L 535.680556 969.202431  z " style="fill: #cab2d6; stroke: #000000; stroke-width: 1.111111; stroke-linejoin: miter" />
    </g>
    <g id="text_53" transform="translate(-1.000 0.000)">
     <text style="font-size: 11.111111px; font-family: 'DejaVu Sans'; text-anchor: start" x="566.791667" y="976.980208" transform="rotate(-0 566.791667 976.980208)">SR Log-likelihood</text>
    </g>
    <g id="patch_64" transform="translate(-1.000 0.000)">
     <path d="M 535.680556 993.289236  L 557.902778 993.289236  L 557.902778 985.511458  L 535.680556 985.511458  z " style="fill: #886fc4; stroke: #000000; stroke-width: 1.111111; stroke-linejoin: miter" />
    </g>
    <g id="text_54" transform="translate(-1.000 0.000)">
     <text style="font-size: 11.111111px; font-family: 'DejaVu Sans'; text-anchor: start" x="566.791667" y="993.289236" transform="rotate(-0 566.791667 993.289236)">MR Log-Likelihood</text>
    </g>
   </g>
  </g>
 </g>
 <defs>
  <clipPath id="p0e9ca665ba">
   <rect x="51.4" y="10.5" width="626.1" height="292.8" />
  </clipPath>
  <clipPath id="p69fe5c8029">
   <rect x="51.4" y="361.5" width="626.1" height="292.8" />
  </clipPath>
  <clipPath id="pdeedae4d94">
   <rect x="51.4" y="712.85" width="626.1" height="292.75" />
  </clipPath>
 </defs>
</svg>
</body></html>
